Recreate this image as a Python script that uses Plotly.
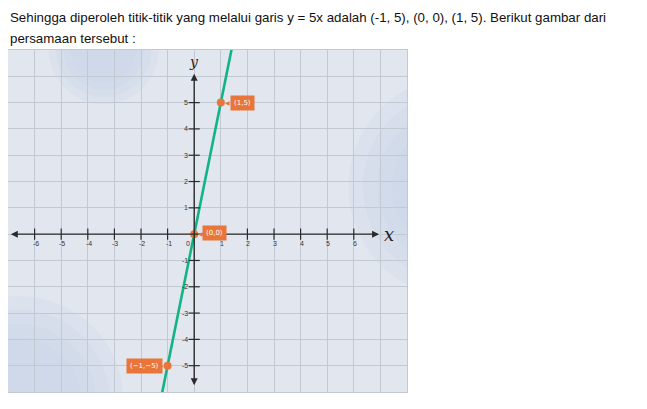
import numpy as np
import plotly.graph_objects as go

# data
slope = 5
line_x = np.array([-1.3, 1.5])
point_x = np.array([-1, 0, 1])
point_labels = ["(\u22121,\u22125)", "(0,0)", "(1,5)"]
x_ticks = [-6, -5, -4, -3, -2, -1, 1, 2, 3, 4, 5, 6]
y_ticks = [-5, -4, -3, -2, -1, 1, 2, 3, 4, 5]
header_1 = ("Sehingga diperoleh titik-titik yang melalui garis y = 5x adalah "
            "(-1, 5), (0, 0), (1, 5). Berikut gambar dari")
header_2 = "persamaan tersebut :"

W, H = 647, 409
OFF = 8  # page body margin
X_RANGE = [-7, 8]
Y_RANGE = [-6, 7]
BG = "#e2e7ef"
GRID = "#c3c9d2"
AXIS = "#2b2b2b"
TEAL = "#12b386"
ORANGE = "#e8763a"
TICK_FONT = dict(size=7, color="#333", family="Liberation Sans")

fig = go.Figure()

# y = 5x
fig.add_trace(go.Scatter(
    x=line_x, y=slope * line_x, mode="lines",
    line=dict(color=TEAL, width=2.6), hoverinfo="skip"
))

# tick crosses on the axes
fig.add_trace(go.Scatter(
    x=x_ticks, y=[0] * len(x_ticks), mode="markers",
    marker=dict(symbol="line-ns", size=8, line=dict(color=AXIS, width=1.2)),
    hoverinfo="skip"
))
fig.add_trace(go.Scatter(
    x=[0] * len(y_ticks), y=y_ticks, mode="markers",
    marker=dict(symbol="line-ew", size=8, line=dict(color=AXIS, width=1.2)),
    hoverinfo="skip"
))

# points
fig.add_trace(go.Scatter(
    x=point_x, y=slope * point_x, mode="markers",
    marker=dict(color=ORANGE, size=8), hoverinfo="skip"
))

# tick labels
for t in x_ticks:
    fig.add_annotation(x=t, y=0, xref="x", yref="y", text=str(t),
                       showarrow=False, xshift=1, yshift=-9, font=TICK_FONT)
fig.add_annotation(x=0, y=0, xref="x", yref="y", text="0",
                   showarrow=False, xshift=-6, yshift=-9, font=TICK_FONT)
for t in y_ticks:
    fig.add_annotation(x=0, y=t, xref="x", yref="y", text=str(t),
                       showarrow=False, xanchor="right", xshift=-4,
                       font=TICK_FONT)

# axes with arrows
fig.add_annotation(x=6.95, y=0, ax=-6.95, ay=0, xref="x", yref="y",
                   axref="x", ayref="y", text="", showarrow=True,
                   arrowhead=2, arrowside="end+start", arrowsize=1,
                   arrowwidth=1.4, arrowcolor=AXIS)
fig.add_annotation(x=0, y=6.1, ax=0, ay=-5.8, xref="x", yref="y",
                   axref="x", ayref="y", text="", showarrow=True,
                   arrowhead=2, arrowside="end+start", arrowsize=1,
                   arrowwidth=1.4, arrowcolor=AXIS)
fig.add_annotation(x=7.32, y=0, xref="x", yref="y", text="<i>x</i>",
                   showarrow=False,
                   font=dict(family="DejaVu Serif", size=18, color="#222"))
fig.add_annotation(x=0, y=6.55, xref="x", yref="y", text="<i>y</i>",
                   showarrow=False,
                   font=dict(family="DejaVu Serif", size=14, color="#222"))

# point labels: orange box plus a small pointer toward the point
shifts = [(-23, 0), (20, 1), (22, 0)]
for px, lab, (dx, dy) in zip(point_x, point_labels, shifts):
    fig.add_annotation(x=px, y=slope * px, xref="x", yref="y", text=lab,
                       showarrow=False, xshift=dx, yshift=dy,
                       bgcolor=ORANGE, borderpad=3,
                       font=dict(family="DejaVu Sans", size=7, color="white"))
    side = 1 if dx > 0 else -1
    fig.add_annotation(x=px, y=slope * px, xref="x", yref="y",
                       text="\u25C0" if side > 0 else "\u25B6",
                       showarrow=False, xshift=side * 6.5, yshift=dy,
                       font=dict(family="DejaVu Sans", size=6, color=ORANGE))

# soft blobs in the background
blobs = [(-3.4, 7.03, 2.07, 2.1), (9.9, 1.8, 4.1, 4.2), (-6.6, -6.35, 3.95, 4.0)]
for cx, cy, rx, ry in blobs:
    for k in np.linspace(1.0, 0.6, 4):
        fig.add_shape(type="circle", xref="x", yref="y", layer="below",
                      x0=cx - rx * k, x1=cx + rx * k,
                      y0=cy - ry * k, y1=cy + ry * k,
                      fillcolor="#c6d5e6", opacity=0.25, line_width=0)

# header text
for txt, ypx in [(header_1, 17), (header_2, 38)]:
    fig.add_annotation(x=(8 - OFF) / W, y=1 - (ypx - OFF) / H,
                       xref="paper", yref="paper",
                       xanchor="left", yanchor="middle", text=txt,
                       showarrow=False,
                       font=dict(family="Liberation Sans", size=13.3,
                                 color="#111"))

fig.update_xaxes(range=X_RANGE, dtick=1, tick0=0, showgrid=True,
                 gridcolor=GRID, gridwidth=1, zeroline=False,
                 showticklabels=False, ticks="", showline=True,
                 linecolor=GRID, mirror=True, fixedrange=True,
                 domain=[(8 - OFF) / W, (407 - OFF) / W])
fig.update_yaxes(range=Y_RANGE, dtick=1, tick0=0, showgrid=True,
                 gridcolor=GRID, gridwidth=1, zeroline=False,
                 showticklabels=False, ticks="", showline=True,
                 linecolor=GRID, mirror=True, fixedrange=True,
                 domain=[1 - (392 - OFF) / H, 1 - (50 - OFF) / H])

fig.update_layout(
    width=W, height=H,
    margin=dict(l=0, r=0, t=0, b=0),
    paper_bgcolor="white", plot_bgcolor=BG,
    showlegend=False,
)

fig.write_html("out.html")
